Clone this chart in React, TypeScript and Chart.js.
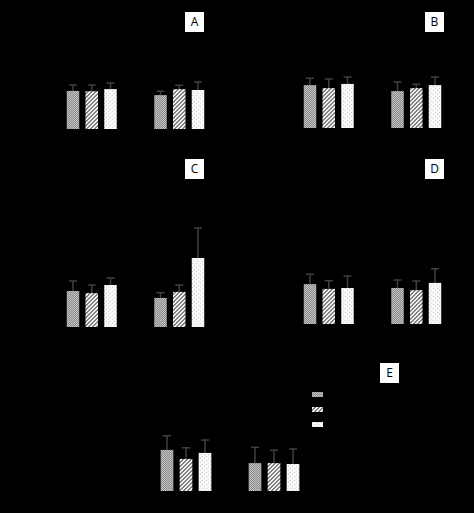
import React, { useEffect, useRef } from 'react';
import { Chart, registerables } from 'chart.js';

Chart.register(...registerables);

const groups = ['Group 1', 'Group 2'];
const seriesNames = ['Control', 'Treatment 1', 'Treatment 2'];

// means per series [group1, group2]
const aMeans = [[1.27, 1.13], [1.26, 1.33], [1.33, 1.3]];
const aErrors = [[0.2, 0.13], [0.21, 0.13], [0.2, 0.27]];
const bMeans = [[1.43, 1.23], [1.33, 1.33], [1.47, 1.43]];
const bErrors = [[0.23, 0.3], [0.3, 0.13], [0.23, 0.27]];
const cMeans = [[1.2, 0.97], [1.13, 1.17], [1.4, 2.3]];
const cErrors = [[0.33, 0.17], [0.27, 0.23], [0.23, 1.0]];
const dMeans = [[1.33, 1.2], [1.17, 1.13], [1.2, 1.37]];
const dErrors = [[0.33, 0.27], [0.27, 0.3], [0.4, 0.47]];
const eMeans = [[1.37, 0.93], [1.07, 0.93], [1.27, 0.9]];
const eErrors = [[0.47, 0.53], [0.37, 0.43], [0.43, 0.5]];

function makePattern(kind: string): CanvasPattern | string {
    const c = document.createElement('canvas');
    c.width = 4;
    c.height = 4;
    const g = c.getContext('2d');
    if (!g) return '#aaa';
    if (kind === 'checker') {
        g.fillStyle = '#c2c2c2';
        g.fillRect(0, 0, 4, 4);
        g.fillStyle = '#8c8c8c';
        for (let y = 0; y < 4; y++) {
            for (let x = 0; x < 4; x++) {
                if ((x + y) % 2 === 0) g.fillRect(x, y, 1, 1);
            }
        }
    } else if (kind === 'stripes') {
        g.fillStyle = '#f2f2f2';
        g.fillRect(0, 0, 4, 4);
        g.fillStyle = '#808080';
        for (let i = 0; i < 4; i++) {
            g.fillRect(i, 3 - i, 1, 1);
            g.fillRect((i + 1) % 4, 3 - i, 1, 1);
        }
    } else {
        g.fillStyle = '#f8f8f8';
        g.fillRect(0, 0, 4, 4);
        g.fillStyle = '#d2d2d2';
        g.fillRect(0, 0, 1, 1);
        g.fillRect(2, 2, 1, 1);
    }
    return g.createPattern(c, 'repeat') || '#aaa';
}

const errorBars = {
    id: 'errorBars',
    afterDatasetsDraw(chart: any) {
        const ctx = chart.ctx;
        const y = chart.scales.y;
        ctx.save();
        ctx.strokeStyle = '#404040';
        ctx.lineWidth = 1.5;
        chart.data.datasets.forEach((ds: any, i: number) => {
            const meta = chart.getDatasetMeta(i);
            meta.data.forEach((bar: any, j: number) => {
                const top = y.getPixelForValue(ds.data[j] + ds.errors[j]);
                ctx.beginPath();
                ctx.moveTo(bar.x, bar.y);
                ctx.lineTo(bar.x, top);
                ctx.moveTo(bar.x - 4, top);
                ctx.lineTo(bar.x + 4, top);
                ctx.stroke();
            });
        });
        ctx.restore();
    },
};

interface PanelProps {
    means: number[][];
    errors: number[][];
    max: number;
    left: number;
    top: number;
    width: number;
    height: number;
    legend?: boolean;
}

const Panel = ({ means, errors, max, left, top, width, height, legend }: PanelProps) => {
    const ref = useRef<HTMLCanvasElement>(null);

    useEffect(() => {
        if (!ref.current) return;
        const fills = [makePattern('checker'), makePattern('stripes'), makePattern('dots')];
        const chart = new Chart(ref.current, {
            type: 'bar',
            data: {
                labels: groups,
                datasets: seriesNames.map((name, i) => ({
                    label: name,
                    data: means[i],
                    errors: errors[i],
                    backgroundColor: fills[i],
                    borderWidth: 0,
                    clip: false,
                    categoryPercentage: legend ? 0.648 : 0.643,
                    barPercentage: 0.667,
                })) as any,
            },
            options: {
                responsive: false,
                animation: false,
                layout: {
                    padding: legend ? { left: 30, top: 0, right: 0, bottom: 10 } : 10,
                },
                scales: {
                    x: { display: false, offset: !legend },
                    y: { display: false, min: 0, max: max },
                },
                plugins: {
                    tooltip: { enabled: false },
                    legend: legend
                        ? {
                              display: true,
                              position: 'right',
                              align: 'start',
                              rtl: true,
                              maxWidth: 51,
                              labels: {
                                  boxWidth: 11,
                                  boxHeight: 5,
                                  padding: 2,
                                  color: '#000',
                                  font: { size: 13, family: 'Liberation Sans' },
                              },
                          }
                        : { display: false },
                },
            },
            plugins: [errorBars],
        });
        return () => {
            chart.destroy();
        };
    }, []);

    return (
        <canvas
            ref={ref}
            width={width}
            height={height}
            style={{ position: 'absolute', left, top, width, height }}
        />
    );
};

const Tag = ({ text, left, top }: { text: string; left: number; top: number }) => (
    <div
        style={{
            position: 'absolute',
            left,
            top,
            width: 19,
            height: 20,
            background: '#fff',
            color: '#000',
            font: '12px "Open Sans", sans-serif',
            lineHeight: '20px',
            textAlign: 'center',
        }}
    >
        {text}
    </div>
);

export default function App() {
    useEffect(() => {
        document.body.style.background = '#000';
    }, []);
    return (
        <div style={{ position: 'fixed', left: 0, top: 0, width: 474, height: 513, background: '#000' }}>
            <Panel means={aMeans} errors={aErrors} max={3} left={38} top={29} width={195} height={110} />
            <Panel means={bMeans} errors={bErrors} max={3} left={275} top={28} width={195} height={110} />
            <Panel means={cMeans} errors={cErrors} max={4} left={38} top={197} width={195} height={140} />
            <Panel means={dMeans} errors={dErrors} max={4} left={275} top={194} width={195} height={140} />
            <Panel means={eMeans} errors={eErrors} max={3.5} left={156} top={386} width={169} height={115} legend />
            <Tag text="A" left={185} top={12} />
            <Tag text="B" left={425} top={12} />
            <Tag text="C" left={185} top={159} />
            <Tag text="D" left={425} top={159} />
            <Tag text="E" left={380} top={363} />
        </div>
    );
}
